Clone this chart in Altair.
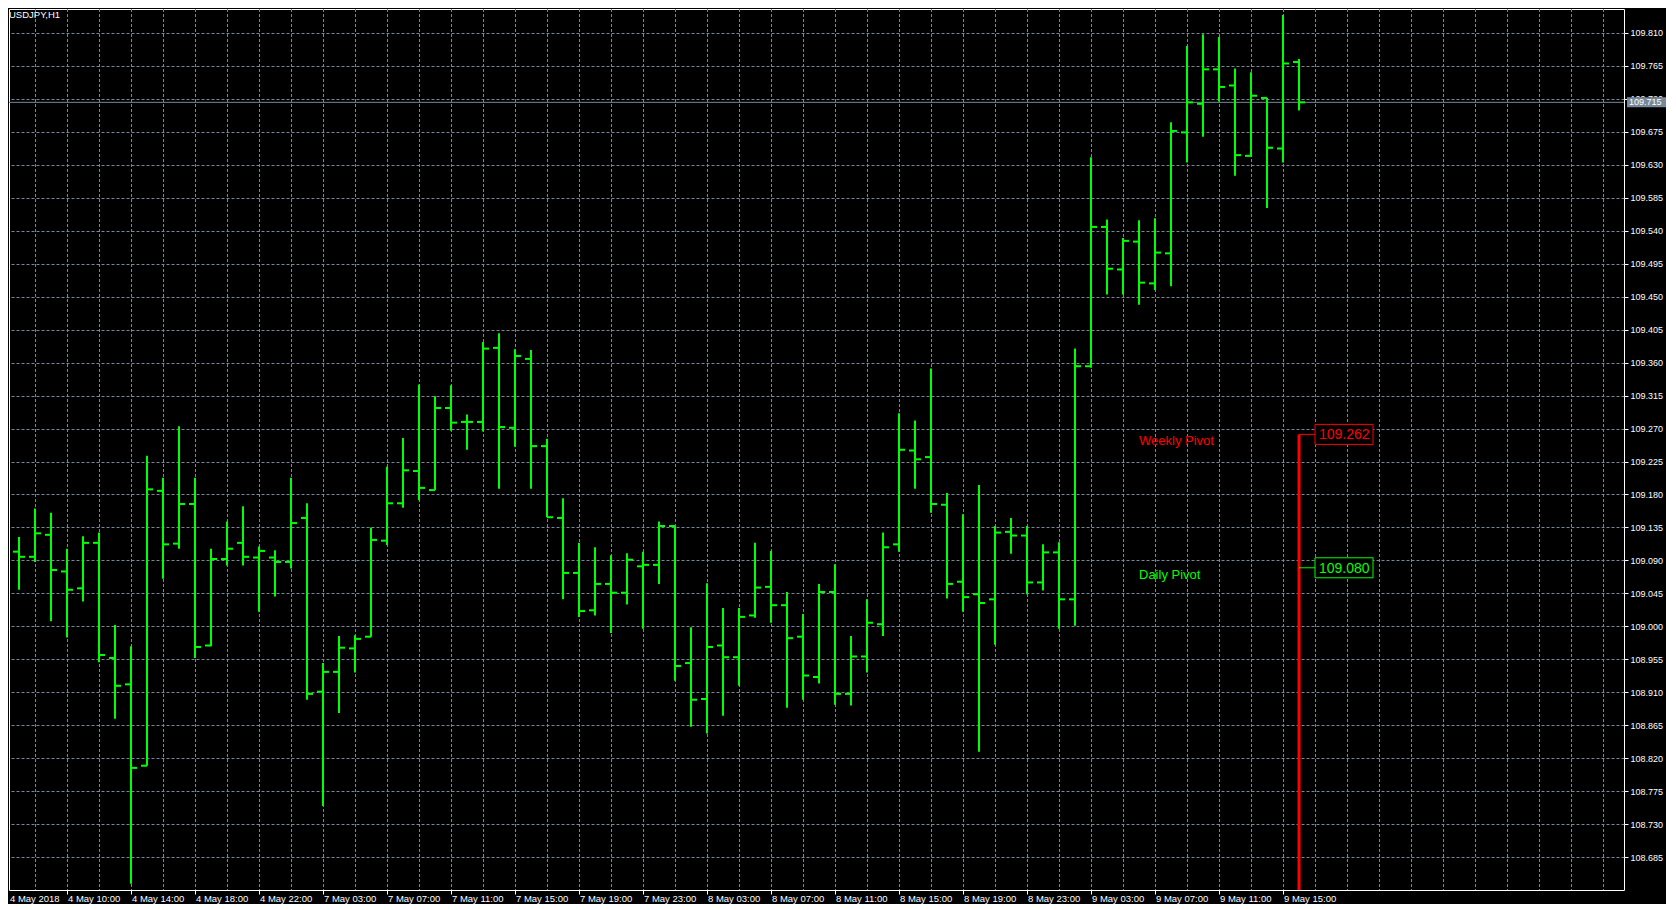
import altair as alt
import pandas as pd

symbol = "USDJPY,H1"

opens = [109.110, 109.102, 109.095, 109.125, 109.075, 109.052, 109.114, 108.957, 108.921, 108.810,
         109.185, 109.113, 109.167, 108.974, 109.092, 109.114, 109.094, 109.094, 109.088, 109.148,
         108.911, 108.938, 108.970, 108.986, 109.117, 109.168, 109.212, 109.186, 109.298, 109.279,
         109.279, 109.380, 109.271, 109.365, 109.246, 109.148, 109.073, 109.022, 109.058, 109.046,
         109.082, 109.084, 109.137, 108.950, 108.901, 108.974, 108.958, 109.015, 109.054, 109.029,
         108.986, 108.931, 109.047, 108.908, 108.959, 109.003, 109.112, 109.240, 109.231, 109.166,
         109.061, 109.044, 109.037, 109.129, 109.124, 109.060, 109.101, 109.037, 109.355, 109.545,
         109.487, 109.525, 109.468, 109.509, 109.674, 109.713, 109.760, 109.738, 109.642, 109.721,
         109.652, 109.770]
highs = [109.118, 109.122, 109.161, 109.155, 109.106, 109.123, 109.128, 109.002, 108.973, 109.233,
         109.203, 109.273, 109.203, 109.106, 109.143, 109.164, 109.109, 109.104, 109.203, 109.168,
         108.950, 108.987, 108.988, 109.135, 109.218, 109.257, 109.330, 109.314, 109.329, 109.289,
         109.388, 109.400, 109.378, 109.377, 109.256, 109.175, 109.114, 109.108, 109.097, 109.100,
         109.102, 109.143, 109.137, 108.999, 109.059, 109.025, 109.025, 109.114, 109.103, 109.047,
         109.017, 109.058, 109.085, 108.987, 109.037, 109.128, 109.291, 109.281, 109.352, 109.182,
         109.153, 109.193, 109.137, 109.148, 109.137, 109.112, 109.115, 109.379, 109.640, 109.555,
         109.530, 109.554, 109.557, 109.688, 109.792, 109.808, 109.804, 109.761, 109.756, 109.721,
         109.834, 109.774]
lows = [109.095, 109.050, 109.088, 109.007, 108.985, 109.034, 108.951, 108.874, 108.649, 108.810,
        109.065, 109.106, 108.957, 108.973, 109.083, 109.083, 109.020, 109.041, 109.079, 108.900,
        108.755, 108.882, 108.937, 108.986, 109.111, 109.162, 109.172, 109.186, 109.267, 109.241,
        109.266, 109.188, 109.245, 109.188, 109.149, 109.037, 109.013, 109.015, 108.991, 109.030,
        108.997, 109.058, 108.926, 108.863, 108.854, 108.878, 108.919, 109.012, 109.005, 108.889,
        108.900, 108.922, 108.893, 108.892, 108.937, 108.987, 109.102, 109.188, 109.155, 109.038,
        109.020, 108.829, 108.975, 109.099, 109.044, 109.049, 108.997, 109.001, 109.353, 109.453,
        109.453, 109.439, 109.459, 109.464, 109.633, 109.668, 109.716, 109.615, 109.641, 109.571,
        109.633, 109.704]
closes = [109.103, 109.095, 109.127, 109.077, 109.050, 109.114, 108.961, 108.919, 108.807, 109.187,
          109.112, 109.167, 108.972, 109.092, 109.106, 109.095, 109.103, 109.088, 109.141, 108.908,
          108.938, 108.971, 108.983, 109.118, 109.168, 109.213, 109.189, 109.298, 109.278, 109.279,
          109.379, 109.272, 109.369, 109.246, 109.149, 109.073, 109.021, 109.058, 109.046, 109.091,
          109.084, 109.137, 108.946, 108.900, 108.972, 108.958, 109.013, 109.053, 109.029, 108.984,
          108.933, 109.047, 108.908, 108.959, 109.005, 109.108, 109.241, 109.228, 109.167, 109.058,
          109.040, 109.032, 109.128, 109.124, 109.060, 109.101, 109.037, 109.355, 109.545, 109.488,
          109.526, 109.469, 109.510, 109.676, 109.715, 109.760, 109.736, 109.643, 109.724, 109.653,
          109.768, 109.715]

x_label_bar = [0, 4, 8, 12, 16, 20, 24, 28, 32, 36, 40, 44, 48, 52, 56, 60, 64, 68, 72, 76, 80]
x_label_text = ["4 May 2018", "4 May 10:00", "4 May 14:00", "4 May 18:00", "4 May 22:00",
                "7 May 03:00", "7 May 07:00", "7 May 11:00", "7 May 15:00", "7 May 19:00",
                "7 May 23:00", "8 May 03:00", "8 May 07:00", "8 May 11:00", "8 May 15:00",
                "8 May 19:00", "8 May 23:00", "9 May 03:00", "9 May 07:00", "9 May 11:00",
                "9 May 15:00"]
y_ticks = [109.810, 109.765, 109.720, 109.675, 109.630, 109.585, 109.540, 109.495, 109.450,
           109.405, 109.360, 109.315, 109.270, 109.225, 109.180, 109.135, 109.090, 109.045,
           109.000, 108.955, 108.910, 108.865, 108.820, 108.775, 108.730, 108.685]

bid = 109.715
pivot_names = ["Weekly Pivot", "Daily Pivot"]
pivot_values = [109.262, 109.080]
pivot_colors = ["#FF0000", "#00FF00"]

# ---------------- geometry / style ----------------
W, H = 1615, 881
BAR_PX = 16.0                      # pixels per bar
PX_PRICE = 733.0                   # pixels per 1.000 of price
X_MIN = 6.0 / BAR_PX
X_MAX = X_MIN + W / BAR_PX
Y_MAX = 109.810 + 23.7 / PX_PRICE
Y_MIN = Y_MAX - H / PX_PRICE
PX = 1.0 / BAR_PX
PY = 1.0 / PX_PRICE
GREEN = "#00FF00"
GRID = "#778899"
FONT = "Liberation Sans"

xscale = alt.Scale(domain=[X_MIN, X_MAX], nice=False, zero=False)
yscale = alt.Scale(domain=[Y_MIN, Y_MAX], nice=False, zero=False)
xaxis = alt.Axis(values=x_label_bar[1:], labels=False, ticks=True, tickColor="white",
                 tickSize=4, domain=False, grid=False, title=None)
yaxis = alt.Axis(orient="right", values=y_ticks, format=".3f", labelColor="white",
                 labelFont=FONT, labelFontSize=9, tickColor="white", tickSize=4,
                 labelPadding=2, grid=True, gridColor=GRID, gridDash=[3, 2], gridWidth=1,
                 domain=False, title=None, labelOverlap=False, labelBound=False,
                 labelFlush=False)


def X(f):
    return alt.X(f, type="quantitative", scale=xscale, axis=xaxis)


def Y(f):
    return alt.Y(f, type="quantitative", scale=yscale, axis=yaxis)


n = len(closes)
bars = pd.DataFrame({"k": list(range(n)), "o": opens, "h": highs, "l": lows, "c": closes})
grid_df = pd.DataFrame({"k": list(range(2, int(X_MAX) + 1, 2))})
bid_df = pd.DataFrame({"p": [bid], "t": [f"{bid:.3f}"]})
piv = pd.DataFrame({"name": pivot_names, "price": pivot_values, "color": pivot_colors,
                    "t": [f"{v:.3f}" for v in pivot_values]})
pivot_bar = n - 1
xl = pd.DataFrame({"k": [max(b, X_MIN) for b in x_label_bar], "t": x_label_text})
sym_df = pd.DataFrame({"t": [symbol]})

vgrid = alt.Chart(grid_df).mark_rule(color=GRID, strokeDash=[3, 2], strokeWidth=1,
                                     xOffset=0.5).encode(x=X("k"))

bid_line = alt.Chart(bid_df).mark_rule(color=GRID, strokeWidth=1).encode(y=Y("p"))

base = alt.Chart(bars)
wick = base.mark_rule(color=GREEN, strokeWidth=2, clip=True).encode(
    x=X("k"), y=Y("l"), y2=alt.Y2("h"))
open_t = base.transform_calculate(ko=f"datum.k - {6 * PX}").mark_rule(
    color=GREEN, strokeWidth=2, clip=True).encode(x=X("ko"), x2=alt.X2("k"), y=Y("o"))
close_t = base.transform_calculate(kc=f"datum.k + {6 * PX}").mark_rule(
    color=GREEN, strokeWidth=2, clip=True).encode(x=X("k"), x2=alt.X2("kc"), y=Y("c"))

pbase = alt.Chart(piv).transform_calculate(
    kl=f"{pivot_bar}",
    bx1=f"{pivot_bar} + {16 * PX}",
    bx2=f"{pivot_bar} + {74 * PX}",
    tx=f"{pivot_bar} + {20 * PX}",
    lx=f"{pivot_bar} - {160 * PX}",
    by1=f"datum.price + {10 * PY}",
    by2=f"datum.price - {10 * PY}",
)
vline = pbase.transform_filter("datum.name == 'Weekly Pivot'").mark_rule(
    strokeWidth=3, clip=True).encode(
    x=X("kl"), y=Y("price"), y2=alt.value(H + 2),
    stroke=alt.Stroke("color:N", scale=None))
conn = pbase.mark_rule(strokeWidth=1).encode(
    x=X("kl"), x2=alt.X2("bx1"), y=Y("price"), stroke=alt.Stroke("color:N", scale=None))
box = pbase.mark_rect(fill="black", strokeWidth=1).encode(
    x=X("bx1"), x2=alt.X2("bx2"), y=Y("by1"), y2=alt.Y2("by2"),
    stroke=alt.Stroke("color:N", scale=None))
box_t = pbase.mark_text(align="left", baseline="middle", font=FONT, fontSize=14, dy=1).encode(
    x=X("tx"), y=Y("price"), text="t:N", fill=alt.Fill("color:N", scale=None))
name_t = pbase.mark_text(align="left", baseline="alphabetic", font=FONT, fontSize=13,
                         dy=11).encode(
    x=X("lx"), y=Y("price"), text="name:N", fill=alt.Fill("color:N", scale=None))

bid_box = alt.Chart(bid_df).transform_calculate(
    p1=f"datum.p + {5 * PY}", p2=f"datum.p - {5 * PY}").mark_rect(color=GRID).encode(
    x=alt.value(W + 3), x2=alt.value(W + 42), y=Y("p1"), y2=alt.Y2("p2"))
bid_t = alt.Chart(bid_df).mark_text(align="left", baseline="middle", font=FONT, fontSize=9,
                                    color="white").encode(
    x=alt.value(W + 5), y=Y("p"), text="t:N")

xlab = alt.Chart(xl).mark_text(align="left", baseline="middle", font=FONT, fontSize=9.5,
                               color="white", dx=1).encode(
    x=X("k"), y=alt.value(H + 9), text="t:N")

sym = alt.Chart(sym_df).mark_text(align="left", baseline="top", font=FONT,
                                  fontSize=9.5, color="white").encode(
    x=alt.value(0), y=alt.value(0.5), text="t:N")

chart = alt.layer(vgrid, bid_line, wick, open_t, close_t, vline, conn, box, box_t, name_t,
                  bid_box, bid_t, xlab, sym).properties(
    width=W, height=H, background="black", padding=0
).configure_view(stroke="white", strokeWidth=1, fill="black")

chart.save("out.html", embed_options={"renderer": "svg", "actions": False})
